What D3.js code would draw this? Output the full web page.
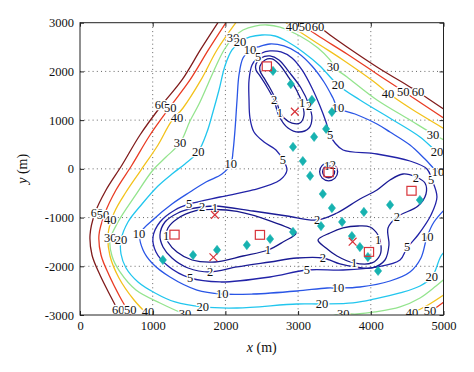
<!DOCTYPE html>
<html><head><meta charset="utf-8">
<script src="https://cdn.jsdelivr.net/npm/d3@7"></script>
<style>
body{margin:0;background:#fff;}
svg{display:block;font-family:"Liberation Serif","Times New Roman",serif;}
</style></head><body>
<svg id="chart" width="474" height="372"></svg>
<script>
// ---------------- data (metres) ----------------
const xTicks = [0,1000,2000,3000,4000,5000];
const yTicks = [-3000,-2000,-1000,0,1000,2000,3000];
const levels = [1,2,5,10,20,30,40,50,60];

const c60a = [[1912,3035],[1664,2461],[1403,1825],[1114,1290],[825,695],[578,79],[358,-434],[206,-906],[138,-1358],[165,-1768],[275,-2179],[426,-2630],[564,-3020]];
const c60b = [[3164,3035],[3274,2932],[3439,2748],[3673,2502],[4085,2092],[4539,1681],[4649,1578],[5062,1167]];
const c50a = [[2022,3035],[1774,2461],[1513,1825],[1238,1270],[963,695],[715,79],[495,-434],[344,-906],[261,-1358],[289,-1768],[399,-2179],[550,-2630],[702,-3020]];
const c50b = [[2985,3035],[3095,2911],[3301,2707],[3673,2358],[4085,1948],[4443,1598],[5062,982]];
const c50c = [[4745,-3062],[4814,-2938],[4910,-2835],[5062,-2671]];
const c40a = [[2160,3035],[1884,2440],[1664,1825],[1417,1249],[1252,962],[1073,489],[839,-24],[633,-475],[468,-906],[385,-1358],[413,-1789],[536,-2240],[743,-2692],[963,-3041]];
const c40b = [[2806,3035],[2916,2911],[3026,2809],[3301,2542],[3618,2235],[4030,1803],[4237,1557],[4539,1249],[5062,777]];
const c40c = [[4374,-3062],[4567,-2958],[4787,-2794],[5062,-2528]];
const c30 = [[5062,-2199],[4897,-2405],[4677,-2651],[4402,-2835],[4058,-2938],[3810,-2979],[3618,-2979],[3301,-3062],[2613,-3123],[1926,-3082],[1582,-3020],[1444,-2979],[1100,-2753],[770,-2487],[550,-2117],[440,-1789],[413,-1460],[523,-1091],[757,-557],[1004,-24],[1183,243],[1376,531],[1513,982],[1637,1331],[1761,1743],[1871,2112],[1981,2440],[2104,2686],[2242,2850],[2407,2932],[2572,2953],[2751,2911],[3026,2727],[3274,2481],[3439,2235],[3508,2071],[3673,1886],[4085,1413],[4539,1003],[4855,716],[5062,551]];
const c20 = [[5062,-1625],[4966,-1789],[4842,-2220],[4677,-2405],[4402,-2548],[4058,-2671],[3755,-2753],[3329,-2774],[2985,-2774],[2160,-2856],[1692,-2835],[1307,-2733],[1032,-2548],[798,-2322],[633,-2035],[564,-1748],[564,-1460],[660,-1091],[853,-721],[1073,-352],[1265,-106],[1444,100],[1623,346],[1747,756],[1829,1167],[1912,1619],[1994,2112],[2091,2440],[2201,2604],[2338,2707],[2503,2748],[2682,2727],[2861,2604],[3067,2399],[3301,2112],[3549,1723],[3851,1413],[4305,1003],[4677,654],[4910,346],[5062,182]];
const c10 = [[5062,-147],[4924,-65],[4745,202],[4539,489],[4264,756],[4085,921],[3783,1126],[3549,1249],[3480,1454],[3356,1783],[3191,2112],[2999,2379],[2806,2522],[2613,2563],[2448,2502],[2338,2440],[2242,2276],[2187,1927],[2160,1413],[2132,798],[2104,346],[2077,100],[1953,-106],[1733,-270],[1513,-475],[1265,-721],[1032,-1009],[825,-1337],[867,-1666],[990,-1932],[1238,-2220],[1609,-2487],[1953,-2569],[2380,-2569],[2985,-2507],[3398,-2446],[3549,-2446],[3851,-2425],[4264,-2302],[4539,-2117],[4690,-1830],[4773,-1399],[4869,-1091],[5062,-762]];
const c5 = [[3439,695],[3384,962],[3301,1290],[3191,1660],[3054,2030],[2916,2276],[2765,2399],[2613,2420],[2503,2379],[2448,2297],[2366,2132],[2325,1825],[2325,1413],[2338,1044],[2393,756],[2531,551],[2696,387],[2792,182],[2847,-24],[2751,-229],[2380,-434],[1926,-578],[1513,-721],[1307,-844],[1100,-1091],[1004,-1399],[1045,-1707],[1210,-1994],[1513,-2240],[1926,-2322],[2613,-2220],[3122,-2076],[3618,-2076],[4085,-2014],[4402,-1871],[4498,-1625],[4649,-1358],[4828,-947],[4910,-578],[4842,-229],[4773,-3],[4539,161],[4085,305],[3618,387],[3508,531]];
const c2 = [[1678,-783],[1857,-763],[2380,-865],[2847,-968],[3260,-1050],[3535,-906],[3851,-619],[4085,-434],[4264,-229],[4443,-106],[4622,-167],[4745,-290],[4759,-516],[4649,-762],[4360,-988],[4237,-1214],[4250,-1563],[4195,-1871],[4016,-2035],[3783,-2014],[3576,-1953],[3342,-1830],[2985,-1830],[2613,-1912],[2160,-2014],[1788,-2117],[1486,-2035],[1265,-1830],[1142,-1604],[1100,-1358],[1169,-1091],[1348,-906],[1513,-824]];
const c1left = [[2971,-1317],[2792,-1501],[2586,-1666],[2242,-1789],[1857,-1912],[1541,-1871],[1334,-1707],[1210,-1501],[1183,-1378],[1210,-1214],[1334,-1029],[1582,-865],[1857,-834],[2160,-875],[2613,-1070]];
const c1right = [[3274,-1460],[3439,-1317],[3618,-1214],[3824,-1173],[3989,-1194],[4099,-1358],[4140,-1563],[4127,-1768],[4016,-1932],[3769,-1932],[3535,-1789],[3384,-1625]];
const ring2 = [[3544,-60],[3508,71],[3420,125],[3332,71],[3296,-60],[3332,-191],[3420,-245],[3508,-191]];
const ring1 = [[3503,-60],[3479,27],[3420,63],[3361,27],[3337,-60],[3361,-147],[3420,-183],[3479,-147]];
const finger2 = [[2421,2153],[2490,2276],[2613,2317],[2737,2235],[2875,1989],[3040,1660],[3150,1311],[3191,1044],[3150,839],[3012,756],[2861,839],[2737,1085],[2668,1413],[2572,1681],[2476,1907],[2421,2030]];
const finger1 = [[2476,2112],[2545,2235],[2641,2256],[2737,2153],[2875,1866],[2985,1598],[3054,1352],[3081,1105],[3026,941],[2916,941],[2806,1044],[2751,1167],[2696,1413],[2613,1660],[2531,1866],[2476,2009]];

// contour labels: [x, y, level]
const contourLabels = [
 [2105,2685,30],[2200,2605,20],[2340,2440,10],[2450,2295,5],
 [1115,1310,60],[1240,1250,50],[1335,1045,40],[1375,530,30],[1625,345,20],[2075,100,10],
 [235,-905,60],[315,-945,50],[415,-1050,40],[415,-1420,30],[565,-1460,20],[810,-1335,10],
 [525,-2895,60],[690,-2895,50],[935,-2940,40],[1445,-2980,30],[1690,-2835,20],[1955,-2570,10],[1515,-2240,5],[1790,-2115,2],
 [1500,-720,5],[1680,-785,2],[1855,-800,1],[1185,-1380,1],[2585,-1665,1],
 [3120,-2075,5],[3550,-2445,10],[3330,-2775,20],[3260,-1050,2],[3340,-1830,2],[3620,-2980,30],
 [4100,-1460,1],[3770,-1930,1],[4360,-990,2],[4620,-190,2],[4500,-1605,5],[4830,-230,5],[4775,-1400,10],[4925,-65,10],[4840,-2220,20],[4910,345,20],[4855,695,30],[4565,-2960,40],[4815,-2915,50],
 [2915,2910,40],[3095,2910,50],[3275,2910,60],[4235,1535,40],[4445,1590,50],[4650,1575,60],
 [3480,2090,30],[3550,1720,20],[3550,1250,10],[3440,695,5],
 [2670,1415,2],[2750,1145,1],[3055,1350,1],[3150,1290,2],[2790,180,5],[3400,60,1],[3480,80,2]
];

const sensors = [[2655,2010],[2900,1740],[3190,1415],[3465,1165],[3385,820],[3220,655],[2930,450],[3065,160],[3165,-145],[3340,-515],[3465,-805],[3605,-1090],[3315,-1175],[2930,-1295],[2615,-1440],[2295,-1565],[1885,-1665],[1555,-1770],[1140,-1870],[3905,-885],[4265,-740],[4675,-640],[3740,-1380],[3850,-1605],[3960,-1810],[4100,-2095]];
const targets = [[2570,2105],[3420,-70],[4560,-450],[1300,-1350],[2475,-1355],[3975,-1705]];
const estimates = [[2955,1175],[1855,-945],[1835,-1815],[3750,-1495]];

// ---------------- drawing ----------------
const svg = d3.select("#chart");
const L = 80, R = 443.5, T = 22.7, B = 315;
const x = d3.scaleLinear().domain([0,5000]).range([L,R]);
const y = d3.scaleLinear().domain([-3000,3000]).range([B,T]);

const levelColor = {1:"#17178a",2:"#1b1c96",5:"#2223a8",10:"#2a56e6",20:"#22c6ee",30:"#94e48e",40:"#f3c21c",50:"#e93c24",60:"#801c1c"};

svg.append("defs").append("clipPath").attr("id","clip")
  .append("rect").attr("x",L).attr("y",T).attr("width",R-L).attr("height",B-T);

// grid
const grid = svg.append("g");
grid.selectAll("line.gx").data(xTicks.slice(1,-1)).join("line")
  .attr("x1",d=>x(d)).attr("x2",d=>x(d)).attr("y1",T).attr("y2",B);
grid.selectAll("line.gy").data(yTicks.slice(1,-1)).join("line")
  .attr("y1",d=>y(d)).attr("y2",d=>y(d)).attr("x1",L).attr("x2",R);
grid.selectAll("line").attr("stroke","#666").attr("stroke-width",1).attr("stroke-dasharray","1,3.2");

// contours
const plot = svg.append("g").attr("clip-path","url(#clip)");
const contourSet = [
  {level:60, pts:c60a}, {level:60, pts:c60b},
  {level:50, pts:c50a}, {level:50, pts:c50b}, {level:50, pts:c50c},
  {level:40, pts:c40a}, {level:40, pts:c40b}, {level:40, pts:c40c},
  {level:30, pts:c30}, {level:20, pts:c20}, {level:10, pts:c10},
  {level:5, pts:c5, closed:true}, {level:2, pts:c2, closed:true},
  {level:1, pts:c1left, closed:true}, {level:1, pts:c1right, closed:true},
  {level:2, pts:ring2, closed:true}, {level:1, pts:ring1, closed:true},
  {level:2, pts:finger2, closed:true}, {level:1, pts:finger1, closed:true}
];
const lineOpen = d3.line().x(d=>x(d[0])).y(d=>y(d[1])).curve(d3.curveCatmullRom.alpha(0.5));
const lineClosed = d3.line().x(d=>x(d[0])).y(d=>y(d[1])).curve(d3.curveCatmullRomClosed.alpha(0.5));
plot.selectAll("path.c").data(contourSet).join("path")
  .attr("d",d=>(d.closed?lineClosed:lineOpen)(d.pts))
  .attr("fill","none").attr("stroke",d=>levelColor[d.level]).attr("stroke-width",1.3);

// contour labels
plot.selectAll("text.cl").data(contourLabels).join("text")
  .attr("x",d=>x(d[0])).attr("y",d=>y(d[1])).attr("dy","0.35em")
  .attr("text-anchor","middle").attr("font-size",12.5).attr("fill","#111")
  .attr("stroke","#fff").attr("stroke-width",2.6).attr("paint-order","stroke")
  .text(d=>d[2]);

// markers
const diamond = {draw(ctx,s){ const w=3.6,h=4.6; ctx.moveTo(0,-h); ctx.lineTo(w,0); ctx.lineTo(0,h); ctx.lineTo(-w,0); ctx.closePath(); }};
plot.selectAll("path.s").data(sensors).join("path")
  .attr("transform",d=>`translate(${x(d[0])},${y(d[1])})`)
  .attr("d",d3.symbol().type(diamond)()).attr("fill","#17b2b0").attr("stroke","#17b2b0").attr("stroke-width",0.6);
plot.selectAll("rect.t").data(targets).join("rect")
  .attr("x",d=>x(d[0])-4.6).attr("y",d=>y(d[1])-4.4).attr("width",9.2).attr("height",8.8)
  .attr("fill","none").attr("stroke","#d8343a").attr("stroke-width",1.2);
const cross = {draw(ctx,s){ const r=3.9; ctx.moveTo(-r,-r); ctx.lineTo(r,r); ctx.moveTo(r,-r); ctx.lineTo(-r,r); }};
plot.selectAll("path.e").data(estimates).join("path")
  .attr("transform",d=>`translate(${x(d[0])},${y(d[1])})`)
  .attr("d",d3.symbol().type(cross)()).attr("fill","none").attr("stroke","#d8343a").attr("stroke-width",1.2);

// axes
const fmt = d=>String(d);
function styleAxis(g){ g.select(".domain").remove(); g.selectAll("line").attr("stroke","#222"); g.selectAll("text").attr("font-family","'Liberation Serif',serif").attr("font-size",12.5).attr("fill","#111"); }
svg.append("g").attr("transform",`translate(0,${B})`).call(d3.axisBottom(x).tickValues(xTicks).tickFormat(fmt).tickSizeInner(-4).tickSizeOuter(0).tickPadding(6)).call(styleAxis);
svg.append("g").attr("transform",`translate(${L},0)`).call(d3.axisLeft(y).tickValues(yTicks).tickFormat(fmt).tickSizeInner(-4).tickSizeOuter(0).tickPadding(6)).call(styleAxis);
svg.append("g").attr("transform",`translate(0,${T})`).call(d3.axisTop(x).tickValues(xTicks).tickFormat("").tickSizeInner(-4).tickSizeOuter(0)).call(styleAxis);
svg.append("g").attr("transform",`translate(${R},0)`).call(d3.axisRight(y).tickValues(yTicks).tickFormat("").tickSizeInner(-4).tickSizeOuter(0)).call(styleAxis);

svg.append("rect").attr("x",L).attr("y",T).attr("width",R-L).attr("height",B-T)
  .attr("fill","none").attr("stroke","#222").attr("stroke-width",1);

// axis titles
const xt = svg.append("text").attr("x",(L+R)/2).attr("y",352).attr("text-anchor","middle").attr("font-size",14).attr("fill","#111");
xt.append("tspan").attr("font-style","italic").text("x");
xt.append("tspan").text(" (m)");
const yt = svg.append("text").attr("transform",`translate(27,${(T+B)/2}) rotate(-90)`).attr("text-anchor","middle").attr("font-size",14).attr("fill","#111");
yt.append("tspan").attr("font-style","italic").text("y");
yt.append("tspan").text(" (m)");
</script>
</body></html>
